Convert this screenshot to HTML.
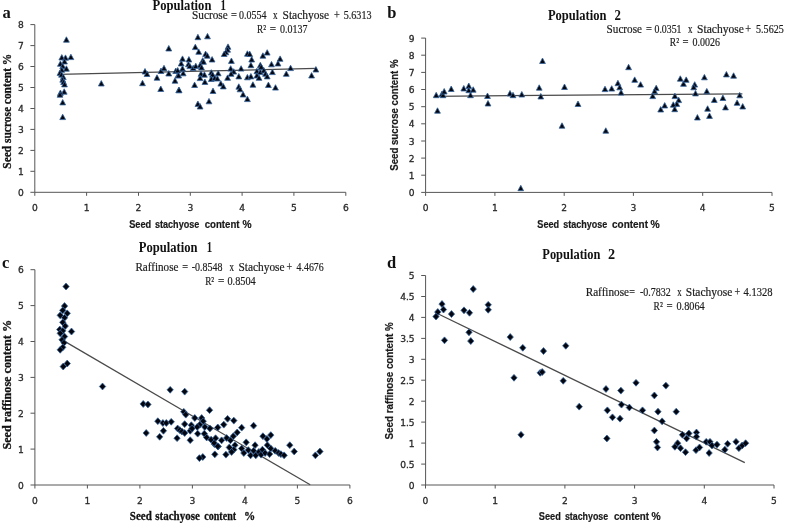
<!DOCTYPE html>
<html lang="en"><head><meta charset="utf-8"><title>Stachyose correlations</title>
<style>html,body{margin:0;padding:0;background:#fff}body{width:785px;height:523px;overflow:hidden}svg{display:block}text{white-space:pre}</style>
</head><body>
<svg width="785" height="523" viewBox="0 0 785 523">
<rect width="785" height="523" fill="#fff"/>
<g stroke="#565656" stroke-width="1" fill="none">
<path d="M34.8 24.6V192.3H345.8"/>
<path d="M34.8 192.3v3.5M86.6 192.3v3.5M138.5 192.3v3.5M190.3 192.3v3.5M242.1 192.3v3.5M293.9 192.3v3.5M345.8 192.3v3.5M34.8 192.3h-4.4M34.8 171.3h-4.4M34.8 150.4h-4.4M34.8 129.4h-4.4M34.8 108.5h-4.4M34.8 87.5h-4.4M34.8 66.5h-4.4M34.8 45.6h-4.4M34.8 24.6h-4.4"/>
</g>
<g font-family="'DejaVu Sans','Liberation Sans',sans-serif" font-size="9.1" fill="#2a2a2a" stroke="#2a2a2a" stroke-width="0.3">
<text x="34.8" y="211.0" text-anchor="middle">0</text>
<text x="86.6" y="211.0" text-anchor="middle">1</text>
<text x="138.5" y="211.0" text-anchor="middle">2</text>
<text x="190.3" y="211.0" text-anchor="middle">3</text>
<text x="242.1" y="211.0" text-anchor="middle">4</text>
<text x="293.9" y="211.0" text-anchor="middle">5</text>
<text x="345.8" y="211.0" text-anchor="middle">6</text>
<text x="23.9" y="195.8" text-anchor="end">0</text>
<text x="23.9" y="174.8" text-anchor="end">1</text>
<text x="23.9" y="153.9" text-anchor="end">2</text>
<text x="23.9" y="132.9" text-anchor="end">3</text>
<text x="23.9" y="112.0" text-anchor="end">4</text>
<text x="23.9" y="91.0" text-anchor="end">5</text>
<text x="23.9" y="70.0" text-anchor="end">6</text>
<text x="23.9" y="49.1" text-anchor="end">7</text>
<text x="23.9" y="28.1" text-anchor="end">8</text>
</g>
<g stroke="#565656" stroke-width="1" fill="none">
<path d="M425.6 38.05V192.4H772"/>
<path d="M425.6 192.4v3.5M494.9 192.4v3.5M564.2 192.4v3.5M633.4 192.4v3.5M702.7 192.4v3.5M772.0 192.4v3.5M425.6 192.4h-4.4M425.6 175.2h-4.4M425.6 158.1h-4.4M425.6 141.0h-4.4M425.6 123.8h-4.4M425.6 106.7h-4.4M425.6 89.5h-4.4M425.6 72.4h-4.4M425.6 55.2h-4.4M425.6 38.1h-4.4"/>
</g>
<g font-family="'DejaVu Sans','Liberation Sans',sans-serif" font-size="9.1" fill="#2a2a2a" stroke="#2a2a2a" stroke-width="0.3">
<text x="425.6" y="211.0" text-anchor="middle">0</text>
<text x="494.9" y="211.0" text-anchor="middle">1</text>
<text x="564.2" y="211.0" text-anchor="middle">2</text>
<text x="633.4" y="211.0" text-anchor="middle">3</text>
<text x="702.7" y="211.0" text-anchor="middle">4</text>
<text x="772.0" y="211.0" text-anchor="middle">5</text>
<text x="414.6" y="195.9" text-anchor="end">0</text>
<text x="414.6" y="178.8" text-anchor="end">1</text>
<text x="414.6" y="161.6" text-anchor="end">2</text>
<text x="414.6" y="144.5" text-anchor="end">3</text>
<text x="414.6" y="127.3" text-anchor="end">4</text>
<text x="414.6" y="110.2" text-anchor="end">5</text>
<text x="414.6" y="93.0" text-anchor="end">6</text>
<text x="414.6" y="75.9" text-anchor="end">7</text>
<text x="414.6" y="58.7" text-anchor="end">8</text>
<text x="414.6" y="41.6" text-anchor="end">9</text>
</g>
<g stroke="#565656" stroke-width="1" fill="none">
<path d="M34.9 269.7V485.0H349.9"/>
<path d="M34.9 485.0v3.5M87.4 485.0v3.5M139.9 485.0v3.5M192.4 485.0v3.5M244.9 485.0v3.5M297.4 485.0v3.5M349.9 485.0v3.5M34.9 485.0h-4.4M34.9 449.1h-4.4M34.9 413.2h-4.4M34.9 377.4h-4.4M34.9 341.5h-4.4M34.9 305.6h-4.4M34.9 269.7h-4.4"/>
</g>
<g font-family="'DejaVu Sans','Liberation Sans',sans-serif" font-size="9.1" fill="#2a2a2a" stroke="#2a2a2a" stroke-width="0.3">
<text x="34.9" y="504.0" text-anchor="middle">0</text>
<text x="87.4" y="504.0" text-anchor="middle">1</text>
<text x="139.9" y="504.0" text-anchor="middle">2</text>
<text x="192.4" y="504.0" text-anchor="middle">3</text>
<text x="244.9" y="504.0" text-anchor="middle">4</text>
<text x="297.4" y="504.0" text-anchor="middle">5</text>
<text x="349.9" y="504.0" text-anchor="middle">6</text>
<text x="23.9" y="488.5" text-anchor="end">0</text>
<text x="23.9" y="452.6" text-anchor="end">1</text>
<text x="23.9" y="416.7" text-anchor="end">2</text>
<text x="23.9" y="380.9" text-anchor="end">3</text>
<text x="23.9" y="345.0" text-anchor="end">4</text>
<text x="23.9" y="309.1" text-anchor="end">5</text>
<text x="23.9" y="273.2" text-anchor="end">6</text>
</g>
<g stroke="#565656" stroke-width="1" fill="none">
<path d="M425.6 275.5V485.0H774"/>
<path d="M425.5 485.0v3.5M495.2 485.0v3.5M564.9 485.0v3.5M634.6 485.0v3.5M704.3 485.0v3.5M774.0 485.0v3.5M425.6 485.0h-4.4M425.6 464.1h-4.4M425.6 443.1h-4.4M425.6 422.1h-4.4M425.6 401.2h-4.4M425.6 380.2h-4.4M425.6 359.3h-4.4M425.6 338.4h-4.4M425.6 317.4h-4.4M425.6 296.5h-4.4M425.6 275.5h-4.4"/>
</g>
<g font-family="'DejaVu Sans','Liberation Sans',sans-serif" font-size="9.1" fill="#2a2a2a" stroke="#2a2a2a" stroke-width="0.3">
<text x="425.5" y="504.0" text-anchor="middle">0</text>
<text x="495.2" y="504.0" text-anchor="middle">1</text>
<text x="564.9" y="504.0" text-anchor="middle">2</text>
<text x="634.6" y="504.0" text-anchor="middle">3</text>
<text x="704.3" y="504.0" text-anchor="middle">4</text>
<text x="774.0" y="504.0" text-anchor="middle">5</text>
<text x="414.6" y="488.5" text-anchor="end">0</text>
<text x="414.6" y="467.6" text-anchor="end">0.5</text>
<text x="414.6" y="446.6" text-anchor="end">1</text>
<text x="414.6" y="425.6" text-anchor="end">1.5</text>
<text x="414.6" y="404.7" text-anchor="end">2</text>
<text x="414.6" y="383.8" text-anchor="end">2.5</text>
<text x="414.6" y="362.8" text-anchor="end">3</text>
<text x="414.6" y="341.9" text-anchor="end">3.5</text>
<text x="414.6" y="320.9" text-anchor="end">4</text>
<text x="414.6" y="300.0" text-anchor="end">4.5</text>
<text x="414.6" y="279.0" text-anchor="end">5</text>
</g>
<g stroke="#4a4a4a" stroke-width="1.25" fill="none">
<path d="M59 74.3L316 68.4"/>
<path d="M433.8 96.3L742.4 93.8"/>
<path d="M63 340.4L310.2 484.8"/>
<path d="M436.3 313L744.8 462.6"/>
</g>
<g fill="#03060f" stroke="#35639c" stroke-width="0.8" stroke-linejoin="miter">
<path d="M66.4 36.8L69.3 42.2H63.5Z"/>
<path d="M61.8 54.6L64.7 60.0H58.9Z"/>
<path d="M65.5 54.9L68.4 60.3H62.6Z"/>
<path d="M70.9 54.2L73.8 59.6H68.0Z"/>
<path d="M64.5 58.6L67.4 64.0H61.6Z"/>
<path d="M60.4 60.9L63.3 66.3H57.5Z"/>
<path d="M62.7 63.3L65.6 68.7H59.8Z"/>
<path d="M66.4 65.8L69.3 71.2H63.5Z"/>
<path d="M61.8 66.9L64.7 72.3H58.9Z"/>
<path d="M60.0 70.0L62.9 75.4H57.1Z"/>
<path d="M61.5 71.8L64.4 77.2H58.6Z"/>
<path d="M63.3 74.2L66.2 79.6H60.4Z"/>
<path d="M62.7 76.8L65.6 82.2H59.8Z"/>
<path d="M63.6 79.1L66.5 84.5H60.7Z"/>
<path d="M64.5 81.5L67.4 86.9H61.6Z"/>
<path d="M64.2 88.8L67.1 94.2H61.3Z"/>
<path d="M60.4 90.0L63.3 95.4H57.5Z"/>
<path d="M60.0 91.8L62.9 97.2H57.1Z"/>
<path d="M62.7 99.5L65.6 104.9H59.8Z"/>
<path d="M62.7 114.2L65.6 119.6H59.8Z"/>
<path d="M101.3 80.6L104.2 86.0H98.4Z"/>
<path d="M142.5 80.3L145.4 85.7H139.6Z"/>
<path d="M145.0 68.5L147.9 74.0H142.1Z"/>
<path d="M147.0 71.0L149.9 76.5H144.1Z"/>
<path d="M157.0 74.8L159.9 80.2H154.1Z"/>
<path d="M160.8 86.0L163.7 91.5H157.8Z"/>
<path d="M161.0 68.0L163.9 73.5H158.1Z"/>
<path d="M164.0 65.3L166.9 70.7H161.1Z"/>
<path d="M168.8 45.5L171.7 51.0H165.8Z"/>
<path d="M168.8 70.5L171.7 76.0H165.8Z"/>
<path d="M175.0 77.8L177.9 83.2H172.1Z"/>
<path d="M175.8 68.0L178.7 73.5H172.8Z"/>
<path d="M178.0 72.3L180.9 77.7H175.1Z"/>
<path d="M178.8 87.3L181.7 92.7H175.8Z"/>
<path d="M197.9 34.3L200.8 39.7H195.0Z"/>
<path d="M207.5 33.4L210.4 38.8H204.6Z"/>
<path d="M195.3 44.2L198.2 49.6H192.4Z"/>
<path d="M198.7 48.9L201.6 54.3H195.8Z"/>
<path d="M205.6 51.1L208.5 56.5H202.7Z"/>
<path d="M207.3 52.8L210.2 58.2H204.4Z"/>
<path d="M212.1 56.6L215.0 62.0H209.2Z"/>
<path d="M202.7 57.7L205.6 63.1H199.8Z"/>
<path d="M203.5 58.9L206.4 64.3H200.6Z"/>
<path d="M182.5 55.9L185.4 61.3H179.6Z"/>
<path d="M188.9 56.6L191.8 62.0H186.0Z"/>
<path d="M181.2 60.6L184.1 66.0H178.3Z"/>
<path d="M188.4 61.4L191.3 66.8H185.5Z"/>
<path d="M189.8 63.2L192.7 68.6H186.9Z"/>
<path d="M193.2 65.2L196.1 70.6H190.3Z"/>
<path d="M195.8 63.2L198.7 68.6H192.9Z"/>
<path d="M200.1 62.3L203.0 67.7H197.2Z"/>
<path d="M201.5 64.5L204.4 69.9H198.6Z"/>
<path d="M182.5 65.7L185.4 71.1H179.6Z"/>
<path d="M177.7 67.5L180.6 72.9H174.8Z"/>
<path d="M183.2 70.4L186.1 75.8H180.3Z"/>
<path d="M178.6 72.6L181.5 78.0H175.7Z"/>
<path d="M201.0 70.9L203.9 76.3H198.1Z"/>
<path d="M204.4 71.8L207.3 77.2H201.5Z"/>
<path d="M200.1 75.2L203.0 80.6H197.2Z"/>
<path d="M204.9 79.0L207.8 84.4H202.0Z"/>
<path d="M194.6 82.1L197.5 87.5H191.7Z"/>
<path d="M179.1 87.3L182.0 92.7H176.2Z"/>
<path d="M211.3 69.7L214.2 75.1H208.4Z"/>
<path d="M212.5 71.8L215.4 77.2H209.6Z"/>
<path d="M211.3 76.1L214.2 81.5H208.4Z"/>
<path d="M214.7 75.2L217.6 80.6H211.8Z"/>
<path d="M217.3 75.6L220.2 81.0H214.4Z"/>
<path d="M218.2 70.4L221.1 75.8H215.3Z"/>
<path d="M220.8 80.7L223.7 86.1H217.9Z"/>
<path d="M223.3 83.5L226.2 88.9H220.4Z"/>
<path d="M213.0 88.1L215.9 93.5H210.1Z"/>
<path d="M209.0 98.4L211.9 103.8H206.1Z"/>
<path d="M197.9 101.0L200.8 106.4H195.0Z"/>
<path d="M200.1 103.6L203.0 109.0H197.2Z"/>
<path d="M228.0 43.9L230.9 49.3H225.1Z"/>
<path d="M227.6 46.8L230.5 52.2H224.7Z"/>
<path d="M225.9 49.4L228.8 54.8H223.0Z"/>
<path d="M224.2 51.1L227.1 56.5H221.3Z"/>
<path d="M231.4 58.0L234.3 63.4H228.5Z"/>
<path d="M230.7 65.7L233.6 71.1H227.8Z"/>
<path d="M233.7 68.7L236.6 74.1H230.8Z"/>
<path d="M231.1 70.9L234.0 76.3H228.2Z"/>
<path d="M227.6 74.9L230.5 80.3H224.7Z"/>
<path d="M241.1 65.7L244.0 71.1H238.2Z"/>
<path d="M238.8 73.5L241.7 78.9H235.9Z"/>
<path d="M238.8 83.8L241.7 89.2H235.9Z"/>
<path d="M240.0 86.4L242.9 91.8H237.1Z"/>
<path d="M243.1 91.6L246.0 97.0H240.2Z"/>
<path d="M247.4 96.2L250.3 101.6H244.5Z"/>
<path d="M247.4 50.8L250.3 56.2H244.5Z"/>
<path d="M249.7 51.1L252.6 56.5H246.8Z"/>
<path d="M251.7 56.6L254.6 62.0H248.8Z"/>
<path d="M250.9 62.3L253.8 67.7H248.0Z"/>
<path d="M247.4 74.4L250.3 79.8H244.5Z"/>
<path d="M250.9 73.5L253.8 78.9H248.0Z"/>
<path d="M252.9 81.8L255.8 87.2H250.0Z"/>
<path d="M260.3 62.3L263.2 67.7H257.4Z"/>
<path d="M261.2 64.0L264.1 69.4H258.3Z"/>
<path d="M256.9 68.3L259.8 73.7H254.0Z"/>
<path d="M260.3 69.2L263.2 74.6H257.4Z"/>
<path d="M263.8 67.5L266.7 72.9H260.9Z"/>
<path d="M256.9 72.6L259.8 78.0H254.0Z"/>
<path d="M259.0 74.9L261.9 80.3H256.1Z"/>
<path d="M262.9 52.8L265.8 58.2H260.0Z"/>
<path d="M267.2 49.7L270.1 55.1H264.3Z"/>
<path d="M271.5 61.4L274.4 66.8H268.6Z"/>
<path d="M265.5 70.9L268.4 76.3H262.6Z"/>
<path d="M267.2 73.5L270.1 78.9H264.3Z"/>
<path d="M272.4 69.2L275.3 74.6H269.5Z"/>
<path d="M268.4 82.1L271.3 87.5H265.5Z"/>
<path d="M275.5 84.7L278.4 90.1H272.6Z"/>
<path d="M280.1 55.9L283.0 61.3H277.2Z"/>
<path d="M278.0 60.6L280.9 66.0H275.1Z"/>
<path d="M290.6 65.2L293.5 70.6H287.7Z"/>
<path d="M315.9 66.6L318.8 72.0H313.0Z"/>
<path d="M311.6 72.6L314.5 78.0H308.7Z"/>
<path d="M286.3 70.9L289.2 76.3H283.4Z"/>
<path d="M436.2 92.3L439.1 97.7H433.4Z"/>
<path d="M437.5 107.8L440.4 113.2H434.6Z"/>
<path d="M442.0 91.0L444.9 96.5H439.1Z"/>
<path d="M443.0 92.3L445.9 97.7H440.1Z"/>
<path d="M444.2 88.5L447.1 94.0H441.4Z"/>
<path d="M451.2 86.0L454.1 91.5H448.4Z"/>
<path d="M463.8 85.5L466.6 91.0H460.9Z"/>
<path d="M468.8 83.0L471.6 88.5H465.9Z"/>
<path d="M468.8 87.3L471.6 92.7H465.9Z"/>
<path d="M470.5 92.3L473.4 97.7H467.6Z"/>
<path d="M473.2 86.8L476.1 92.2H470.4Z"/>
<path d="M487.5 93.0L490.4 98.5H484.6Z"/>
<path d="M488.0 100.5L490.9 106.0H485.1Z"/>
<path d="M510.0 90.5L512.9 96.0H507.1Z"/>
<path d="M513.0 92.3L515.9 97.7H510.1Z"/>
<path d="M521.8 91.5L524.6 97.0H518.9Z"/>
<path d="M539.2 84.8L542.1 90.2H536.4Z"/>
<path d="M540.8 93.5L543.6 99.0H537.9Z"/>
<path d="M542.5 58.0L545.4 63.5H539.6Z"/>
<path d="M564.5 84.0L567.4 89.5H561.6Z"/>
<path d="M562.0 122.8L564.9 128.2H559.1Z"/>
<path d="M578.0 101.0L580.9 106.5H575.1Z"/>
<path d="M520.8 185.3L523.6 190.7H517.9Z"/>
<path d="M628.6 64.3L631.5 69.7H625.7Z"/>
<path d="M605.0 86.2L607.9 91.6H602.1Z"/>
<path d="M611.7 85.7L614.6 91.1H608.8Z"/>
<path d="M617.9 80.3L620.8 85.7H615.0Z"/>
<path d="M619.7 84.4L622.6 89.8H616.8Z"/>
<path d="M621.1 89.7L624.0 95.1H618.2Z"/>
<path d="M605.8 127.8L608.7 133.2H602.9Z"/>
<path d="M634.7 76.9L637.6 82.3H631.8Z"/>
<path d="M640.6 81.7L643.5 87.1H637.7Z"/>
<path d="M656.2 85.2L659.1 90.6H653.3Z"/>
<path d="M654.6 88.4L657.5 93.8H651.7Z"/>
<path d="M652.7 93.2L655.6 98.6H649.8Z"/>
<path d="M660.7 106.6L663.6 112.0H657.8Z"/>
<path d="M664.7 102.6L667.6 108.0H661.8Z"/>
<path d="M674.9 93.2L677.8 98.6H672.0Z"/>
<path d="M678.7 97.2L681.6 102.6H675.8Z"/>
<path d="M676.8 101.0L679.7 106.4H673.9Z"/>
<path d="M673.3 101.8L676.2 107.2H670.4Z"/>
<path d="M674.7 106.3L677.6 111.7H671.8Z"/>
<path d="M680.3 75.8L683.2 81.2H677.4Z"/>
<path d="M683.5 80.9L686.4 86.3H680.6Z"/>
<path d="M686.2 76.9L689.1 82.3H683.3Z"/>
<path d="M694.7 81.7L697.6 87.1H691.8Z"/>
<path d="M693.7 84.4L696.6 89.8H690.8Z"/>
<path d="M695.5 90.5L698.4 95.9H692.6Z"/>
<path d="M697.4 114.6L700.3 120.0H694.5Z"/>
<path d="M704.4 74.4L707.3 79.8H701.5Z"/>
<path d="M706.8 88.4L709.7 93.8H703.9Z"/>
<path d="M707.6 105.8L710.5 111.2H704.7Z"/>
<path d="M709.5 113.0L712.4 118.4H706.6Z"/>
<path d="M714.3 97.0L717.2 102.4H711.4Z"/>
<path d="M722.9 95.1L725.8 100.5H720.0Z"/>
<path d="M726.4 71.5L729.3 76.9H723.5Z"/>
<path d="M725.5 104.5L728.4 109.9H722.6Z"/>
<path d="M733.6 72.8L736.5 78.2H730.7Z"/>
<path d="M739.7 92.4L742.6 97.8H736.8Z"/>
<path d="M737.1 99.9L740.0 105.3H734.2Z"/>
<path d="M742.7 103.6L745.6 109.0H739.8Z"/>
<path d="M66.0 283.1L69.2 286.6L66.0 290.0L62.9 286.6Z"/>
<path d="M64.5 302.6L67.7 306.1L64.5 309.5L61.4 306.1Z"/>
<path d="M62.8 306.9L65.9 310.3L62.8 313.8L59.6 310.3Z"/>
<path d="M67.2 309.9L70.4 313.3L67.2 316.8L64.1 313.3Z"/>
<path d="M60.2 311.9L63.4 315.3L60.2 318.8L57.1 315.3Z"/>
<path d="M64.5 314.4L67.7 317.8L64.5 321.2L61.4 317.8Z"/>
<path d="M62.8 318.9L65.9 322.3L62.8 325.8L59.6 322.3Z"/>
<path d="M65.2 322.6L68.4 326.1L65.2 329.5L62.1 326.1Z"/>
<path d="M59.8 326.1L62.9 329.6L59.8 333.0L56.6 329.6Z"/>
<path d="M62.8 327.4L65.9 330.8L62.8 334.2L59.6 330.8Z"/>
<path d="M71.5 328.1L74.7 331.6L71.5 335.0L68.3 331.6Z"/>
<path d="M60.2 329.9L63.4 333.3L60.2 336.8L57.1 333.3Z"/>
<path d="M64.5 333.1L67.7 336.6L64.5 340.0L61.4 336.6Z"/>
<path d="M62.0 336.4L65.2 339.8L62.0 343.2L58.9 339.8Z"/>
<path d="M64.0 339.4L67.2 342.8L64.0 346.2L60.9 342.8Z"/>
<path d="M62.8 343.9L65.9 347.3L62.8 350.8L59.6 347.3Z"/>
<path d="M60.2 346.4L63.4 349.8L60.2 353.2L57.1 349.8Z"/>
<path d="M67.2 360.1L70.4 363.6L67.2 367.0L64.1 363.6Z"/>
<path d="M63.2 363.1L66.4 366.6L63.2 370.0L60.1 366.6Z"/>
<path d="M102.5 383.1L105.7 386.5L102.5 389.9L99.4 386.5Z"/>
<path d="M170.2 386.4L173.3 389.8L170.2 393.2L167.0 389.8Z"/>
<path d="M184.7 388.2L187.8 391.6L184.7 395.1L181.5 391.6Z"/>
<path d="M143.2 400.5L146.4 403.9L143.2 407.4L140.1 403.9Z"/>
<path d="M147.9 401.0L151.1 404.4L147.9 407.9L144.8 404.4Z"/>
<path d="M209.6 406.8L212.7 410.2L209.6 413.6L206.4 410.2Z"/>
<path d="M183.8 408.4L186.9 411.8L183.8 415.2L180.6 411.8Z"/>
<path d="M185.8 411.2L188.9 414.7L185.8 418.1L182.6 414.7Z"/>
<path d="M194.8 414.6L197.9 418.0L194.8 421.4L191.6 418.0Z"/>
<path d="M201.7 414.6L204.8 418.0L201.7 421.4L198.5 418.0Z"/>
<path d="M203.2 417.8L206.4 421.2L203.2 424.6L200.1 421.2Z"/>
<path d="M157.8 417.8L161.0 421.2L157.8 424.6L154.7 421.2Z"/>
<path d="M162.9 419.6L166.1 423.0L162.9 426.4L159.8 423.0Z"/>
<path d="M166.3 419.6L169.5 423.0L166.3 426.4L163.2 423.0Z"/>
<path d="M171.2 418.4L174.4 421.8L171.2 425.2L168.1 421.8Z"/>
<path d="M184.7 420.7L187.8 424.1L184.7 427.6L181.5 424.1Z"/>
<path d="M191.3 421.8L194.5 425.2L191.3 428.6L188.2 425.2Z"/>
<path d="M199.8 421.2L203.0 424.7L199.8 428.1L196.7 424.7Z"/>
<path d="M197.2 423.6L200.4 427.0L197.2 430.4L194.1 427.0Z"/>
<path d="M204.8 423.6L208.0 427.0L204.8 430.4L201.7 427.0Z"/>
<path d="M209.9 425.1L213.1 428.5L209.9 431.9L206.8 428.5Z"/>
<path d="M217.8 424.0L220.9 427.4L217.8 430.9L214.6 427.4Z"/>
<path d="M177.6 425.1L180.7 428.5L177.6 431.9L174.4 428.5Z"/>
<path d="M179.8 426.7L182.9 430.1L179.8 433.6L176.6 430.1Z"/>
<path d="M181.9 428.1L185.1 431.5L181.9 434.9L178.8 431.5Z"/>
<path d="M184.7 429.6L187.8 433.0L184.7 436.4L181.5 433.0Z"/>
<path d="M190.2 427.4L193.4 430.8L190.2 434.2L187.1 430.8Z"/>
<path d="M192.1 425.1L195.2 428.5L192.1 431.9L188.9 428.5Z"/>
<path d="M197.7 430.2L200.8 433.7L197.7 437.1L194.5 433.7Z"/>
<path d="M204.3 430.2L207.5 433.7L204.3 437.1L201.2 433.7Z"/>
<path d="M163.4 427.4L166.6 430.8L163.4 434.2L160.3 430.8Z"/>
<path d="M146.2 429.6L149.3 433.0L146.2 436.4L143.0 433.0Z"/>
<path d="M159.7 433.4L162.8 436.8L159.7 440.2L156.5 436.8Z"/>
<path d="M177.1 434.8L180.2 438.2L177.1 441.6L173.9 438.2Z"/>
<path d="M190.2 436.8L193.4 440.2L190.2 443.6L187.1 440.2Z"/>
<path d="M206.7 434.1L209.8 437.5L206.7 440.9L203.5 437.5Z"/>
<path d="M211.1 436.2L214.2 439.7L211.1 443.1L207.9 439.7Z"/>
<path d="M215.6 434.8L218.7 438.2L215.6 441.6L212.4 438.2Z"/>
<path d="M214.4 440.8L217.6 444.2L214.4 447.6L211.3 444.2Z"/>
<path d="M218.2 443.0L221.4 446.4L218.2 449.9L215.1 446.4Z"/>
<path d="M214.8 450.9L218.0 454.3L214.8 457.8L211.7 454.3Z"/>
<path d="M202.8 453.6L206.0 457.0L202.8 460.4L199.7 457.0Z"/>
<path d="M199.4 454.7L202.6 458.1L199.4 461.6L196.3 458.1Z"/>
<path d="M227.6 415.4L230.7 418.8L227.6 422.2L224.4 418.8Z"/>
<path d="M233.8 417.2L237.0 420.6L233.8 424.1L230.7 420.6Z"/>
<path d="M223.8 421.2L226.9 424.6L223.8 428.1L220.6 424.6Z"/>
<path d="M241.7 424.2L244.8 427.7L241.7 431.1L238.5 427.7Z"/>
<path d="M253.6 422.2L256.7 425.7L253.6 429.1L250.4 425.7Z"/>
<path d="M237.2 429.0L240.3 432.4L237.2 435.9L234.0 432.4Z"/>
<path d="M233.3 432.8L236.5 436.2L233.3 439.6L230.2 436.2Z"/>
<path d="M226.7 434.6L229.8 438.0L226.7 441.4L223.5 438.0Z"/>
<path d="M230.4 436.9L233.6 440.3L230.4 443.8L227.3 440.3Z"/>
<path d="M221.6 436.9L224.7 440.3L221.6 443.8L218.4 440.3Z"/>
<path d="M214.2 439.6L217.3 443.0L214.2 446.4L211.0 443.0Z"/>
<path d="M217.8 442.9L220.9 446.3L217.8 449.8L214.6 446.3Z"/>
<path d="M234.9 441.8L238.1 445.2L234.9 448.6L231.8 445.2Z"/>
<path d="M229.3 444.0L232.5 447.4L229.3 450.9L226.2 447.4Z"/>
<path d="M233.8 446.2L237.0 449.7L233.8 453.1L230.7 449.7Z"/>
<path d="M231.6 448.5L234.7 451.9L231.6 455.4L228.4 451.9Z"/>
<path d="M225.9 451.2L229.1 454.6L225.9 458.1L222.8 454.6Z"/>
<path d="M246.2 438.9L249.3 442.3L246.2 445.8L243.0 442.3Z"/>
<path d="M241.7 445.1L244.8 448.5L241.7 451.9L238.5 448.5Z"/>
<path d="M243.8 449.6L247.0 453.0L243.8 456.4L240.7 453.0Z"/>
<path d="M248.3 446.7L251.5 450.1L248.3 453.6L245.2 450.1Z"/>
<path d="M250.6 451.9L253.7 455.3L250.6 458.8L247.4 455.3Z"/>
<path d="M253.6 447.4L256.7 450.8L253.6 454.2L250.4 450.8Z"/>
<path d="M255.1 441.8L258.2 445.2L255.1 448.6L251.9 445.2Z"/>
<path d="M255.8 451.9L258.9 455.3L255.8 458.8L252.6 455.3Z"/>
<path d="M258.9 448.5L262.0 451.9L258.9 455.4L255.7 451.9Z"/>
<path d="M261.1 451.2L264.3 454.6L261.1 458.1L258.0 454.6Z"/>
<path d="M262.4 446.2L265.6 449.7L262.4 453.1L259.3 449.7Z"/>
<path d="M265.1 449.6L268.3 453.0L265.1 456.4L262.0 453.0Z"/>
<path d="M262.9 432.8L266.1 436.2L262.9 439.6L259.8 436.2Z"/>
<path d="M266.9 435.5L270.1 438.9L266.9 442.4L263.8 438.9Z"/>
<path d="M270.8 431.7L273.9 435.1L270.8 438.6L267.6 435.1Z"/>
<path d="M267.4 441.8L270.5 445.2L267.4 448.6L264.2 445.2Z"/>
<path d="M270.8 445.1L273.9 448.5L270.8 451.9L267.6 448.5Z"/>
<path d="M269.6 450.7L272.8 454.1L269.6 457.6L266.5 454.1Z"/>
<path d="M275.2 447.4L278.4 450.8L275.2 454.2L272.1 450.8Z"/>
<path d="M278.6 449.6L281.7 453.0L278.6 456.4L275.4 453.0Z"/>
<path d="M280.9 450.7L284.0 454.1L280.9 457.6L277.7 454.1Z"/>
<path d="M284.1 451.9L287.3 455.3L284.1 458.8L281.0 455.3Z"/>
<path d="M289.8 441.8L292.9 445.2L289.8 448.6L286.6 445.2Z"/>
<path d="M294.2 448.1L297.4 451.5L294.2 454.9L291.1 451.5Z"/>
<path d="M315.4 451.9L318.6 455.3L315.4 458.8L312.3 455.3Z"/>
<path d="M319.9 448.1L323.1 451.5L319.9 454.9L316.8 451.5Z"/>
<path d="M473.2 285.6L476.4 289.1L473.2 292.5L470.1 289.1Z"/>
<path d="M442.0 300.6L445.1 304.1L442.0 307.5L438.9 304.1Z"/>
<path d="M443.5 306.1L446.6 309.6L443.5 313.0L440.4 309.6Z"/>
<path d="M437.8 308.6L440.9 312.1L437.8 315.5L434.6 312.1Z"/>
<path d="M436.0 313.1L439.1 316.6L436.0 320.0L432.9 316.6Z"/>
<path d="M451.5 310.6L454.6 314.1L451.5 317.5L448.4 314.1Z"/>
<path d="M464.0 306.9L467.1 310.3L464.0 313.8L460.9 310.3Z"/>
<path d="M469.5 309.4L472.6 312.8L469.5 316.2L466.4 312.8Z"/>
<path d="M488.2 301.4L491.4 304.8L488.2 308.2L485.1 304.8Z"/>
<path d="M488.2 306.4L491.4 309.8L488.2 313.2L485.1 309.8Z"/>
<path d="M469.0 328.9L472.1 332.3L469.0 335.8L465.9 332.3Z"/>
<path d="M444.5 336.9L447.6 340.3L444.5 343.8L441.4 340.3Z"/>
<path d="M470.8 337.6L473.9 341.1L470.8 344.5L467.6 341.1Z"/>
<path d="M510.2 333.6L513.4 337.1L510.2 340.5L507.1 337.1Z"/>
<path d="M522.8 344.4L525.9 347.8L522.8 351.2L519.6 347.8Z"/>
<path d="M543.5 347.6L546.6 351.1L543.5 354.5L540.4 351.1Z"/>
<path d="M565.8 342.4L568.9 345.8L565.8 349.2L562.6 345.8Z"/>
<path d="M514.0 374.4L517.1 377.8L514.0 381.2L510.9 377.8Z"/>
<path d="M540.2 369.4L543.4 372.8L540.2 376.2L537.1 372.8Z"/>
<path d="M542.2 368.6L545.4 372.1L542.2 375.5L539.1 372.1Z"/>
<path d="M563.2 377.4L566.4 380.8L563.2 384.2L560.1 380.8Z"/>
<path d="M521.0 431.4L524.1 434.8L521.0 438.2L517.9 434.8Z"/>
<path d="M579.2 403.2L582.4 406.7L579.2 410.1L576.1 406.7Z"/>
<path d="M606.0 385.6L609.1 389.0L606.0 392.4L602.8 389.0Z"/>
<path d="M620.9 387.2L624.0 390.6L620.9 394.1L617.7 390.6Z"/>
<path d="M636.0 379.4L639.2 382.8L636.0 386.2L632.9 382.8Z"/>
<path d="M665.9 382.2L669.0 385.6L665.9 389.1L662.7 385.6Z"/>
<path d="M654.4 392.0L657.5 395.4L654.4 398.9L651.2 395.4Z"/>
<path d="M621.5 401.2L624.6 404.7L621.5 408.1L618.3 404.7Z"/>
<path d="M629.4 404.1L632.5 407.5L629.4 410.9L626.2 407.5Z"/>
<path d="M607.4 406.9L610.5 410.3L607.4 413.8L604.2 410.3Z"/>
<path d="M612.5 413.9L615.6 417.3L612.5 420.8L609.3 417.3Z"/>
<path d="M620.0 415.2L623.2 418.7L620.0 422.1L616.9 418.7Z"/>
<path d="M642.5 406.9L645.7 410.3L642.5 413.8L639.4 410.3Z"/>
<path d="M658.0 408.2L661.1 411.7L658.0 415.1L654.8 411.7Z"/>
<path d="M676.2 408.2L679.4 411.7L676.2 415.1L673.1 411.7Z"/>
<path d="M662.1 417.9L665.3 421.3L662.1 424.8L659.0 421.3Z"/>
<path d="M606.9 435.0L610.0 438.4L606.9 441.9L603.7 438.4Z"/>
<path d="M654.4 427.1L657.5 430.5L654.4 433.9L651.2 430.5Z"/>
<path d="M656.5 438.4L659.7 441.8L656.5 445.2L653.4 441.8Z"/>
<path d="M657.5 444.0L660.6 447.4L657.5 450.9L654.3 447.4Z"/>
<path d="M682.5 431.4L685.6 434.8L682.5 438.2L679.3 434.8Z"/>
<path d="M688.9 430.0L692.0 433.4L688.9 436.9L685.7 433.4Z"/>
<path d="M686.6 435.0L689.8 438.4L686.6 441.9L683.5 438.4Z"/>
<path d="M696.5 429.1L699.6 432.5L696.5 435.9L693.3 432.5Z"/>
<path d="M696.5 433.2L699.6 436.7L696.5 440.1L693.3 436.7Z"/>
<path d="M677.6 439.8L680.8 443.2L677.6 446.6L674.5 443.2Z"/>
<path d="M674.9 443.4L678.0 446.8L674.9 450.2L671.7 446.8Z"/>
<path d="M680.5 444.8L683.6 448.2L680.5 451.6L677.3 448.2Z"/>
<path d="M685.5 448.8L688.7 452.2L685.5 455.6L682.4 452.2Z"/>
<path d="M696.0 446.8L699.1 450.2L696.0 453.6L692.8 450.2Z"/>
<path d="M699.5 444.0L702.7 447.4L699.5 450.9L696.4 447.4Z"/>
<path d="M706.2 438.4L709.4 441.8L706.2 445.2L703.1 441.8Z"/>
<path d="M710.0 438.4L713.1 441.8L710.0 445.2L706.8 441.8Z"/>
<path d="M712.0 442.0L715.1 445.4L712.0 448.9L708.8 445.4Z"/>
<path d="M709.1 449.6L712.3 453.0L709.1 456.4L706.0 453.0Z"/>
<path d="M717.0 441.2L720.1 444.6L717.0 448.1L713.8 444.6Z"/>
<path d="M724.9 446.2L728.0 449.7L724.9 453.1L721.7 449.7Z"/>
<path d="M727.6 440.4L730.8 443.8L727.6 447.2L724.5 443.8Z"/>
<path d="M736.0 438.4L739.2 441.8L736.0 445.2L732.9 441.8Z"/>
<path d="M738.9 444.8L742.0 448.2L738.9 451.6L735.7 448.2Z"/>
<path d="M742.2 442.0L745.4 445.4L742.2 448.9L739.1 445.4Z"/>
<path d="M745.6 439.8L748.8 443.2L745.6 446.6L742.5 443.2Z"/>
</g>
<g font-family="'Liberation Serif',serif" font-weight="bold" font-size="16.5" fill="#111">
<text x="2.6" y="18">a</text>
<text x="387.2" y="18.1">b</text>
<text x="2.1" y="268">c</text>
<text x="387.1" y="268.2">d</text>
</g>
<g font-family="'Liberation Serif',serif" font-weight="bold" font-size="13.6" fill="#111">
<text x="152.6" y="9.6" lengthAdjust="spacingAndGlyphs" textLength="58.8">Population</text>
<text x="220.6" y="9.6" lengthAdjust="spacingAndGlyphs" textLength="5.4">1</text>
<text x="547.9" y="20.4" lengthAdjust="spacingAndGlyphs" textLength="58.6">Population</text>
<text x="614.6" y="20.4" lengthAdjust="spacingAndGlyphs" textLength="6.4">2</text>
<text x="138.7" y="252.1" lengthAdjust="spacingAndGlyphs" textLength="58.8">Population</text>
<text x="206.7" y="252.1" lengthAdjust="spacingAndGlyphs" textLength="5.4">1</text>
<text x="542.3" y="258.6" lengthAdjust="spacingAndGlyphs" textLength="58.1">Population</text>
<text x="608" y="258.6" lengthAdjust="spacingAndGlyphs" textLength="7.1">2</text>
</g>
<g font-family="'Liberation Serif',serif" font-size="12" fill="#1c1c1c" stroke="#1c1c1c" stroke-width="0.2">
<text x="192.0" y="19.0" lengthAdjust="spacingAndGlyphs" textLength="35.7">Sucrose</text>
<text x="231.1" y="19.0" lengthAdjust="spacingAndGlyphs" textLength="5.9">=</text>
<text x="239.1" y="19.0" lengthAdjust="spacingAndGlyphs" textLength="27.4">0.0554</text>
<text x="272.9" y="19.0" lengthAdjust="spacingAndGlyphs" textLength="4.5">x</text>
<text x="282.5" y="19.0" lengthAdjust="spacingAndGlyphs" textLength="46.5">Stachyose</text>
<text x="334.1" y="19.0" lengthAdjust="spacingAndGlyphs" textLength="5.8">+</text>
<text x="343.7" y="19.0" lengthAdjust="spacingAndGlyphs" textLength="27.8">5.6313</text>
<text x="257" y="33.0" lengthAdjust="spacingAndGlyphs" textLength="8.9">R²</text>
<text x="269.7" y="33.0" lengthAdjust="spacingAndGlyphs" textLength="6.3">=</text>
<text x="280" y="33.0" lengthAdjust="spacingAndGlyphs" textLength="27.4">0.0137</text>
<text x="606.6" y="33.0" lengthAdjust="spacingAndGlyphs" textLength="35.4">Sucrose</text>
<text x="646.1" y="33.0" lengthAdjust="spacingAndGlyphs" textLength="5.9">=</text>
<text x="654.5" y="33.0" lengthAdjust="spacingAndGlyphs" textLength="27.0">0.0351</text>
<text x="688" y="33.0" lengthAdjust="spacingAndGlyphs" textLength="4.4">x</text>
<text x="697.1" y="33.0" lengthAdjust="spacingAndGlyphs" textLength="46.8">Stachyose</text>
<text x="745.2" y="33.0" lengthAdjust="spacingAndGlyphs" textLength="5.8">+</text>
<text x="756.1" y="33.0" lengthAdjust="spacingAndGlyphs" textLength="27.6">5.5625</text>
<text x="669.8" y="46.3" lengthAdjust="spacingAndGlyphs" textLength="9.2">R²</text>
<text x="682.5" y="46.3" lengthAdjust="spacingAndGlyphs" textLength="6.0">=</text>
<text x="692.6" y="46.3" lengthAdjust="spacingAndGlyphs" textLength="27.4">0.0026</text>
<text x="135.4" y="270.6" lengthAdjust="spacingAndGlyphs" textLength="43.0">Raffinose</text>
<text x="182.2" y="270.6" lengthAdjust="spacingAndGlyphs" textLength="5.8">=</text>
<text x="191.8" y="270.6" lengthAdjust="spacingAndGlyphs" textLength="30.6">-0.8548</text>
<text x="229.5" y="270.6" lengthAdjust="spacingAndGlyphs" textLength="4.4">x</text>
<text x="238.4" y="270.6" lengthAdjust="spacingAndGlyphs" textLength="46.2">Stachyose</text>
<text x="286.6" y="270.6" lengthAdjust="spacingAndGlyphs" textLength="5.6">+</text>
<text x="296.6" y="270.6" lengthAdjust="spacingAndGlyphs" textLength="27.1">4.4676</text>
<text x="205.2" y="284.7" lengthAdjust="spacingAndGlyphs" textLength="8.9">R²</text>
<text x="217.9" y="284.7" lengthAdjust="spacingAndGlyphs" textLength="6.4">=</text>
<text x="227.5" y="284.7" lengthAdjust="spacingAndGlyphs" textLength="28.1">0.8504</text>
<text x="585.7" y="296.3" lengthAdjust="spacingAndGlyphs" textLength="43.3">Raffinose</text>
<text x="629.3" y="296.3" lengthAdjust="spacingAndGlyphs" textLength="5.7">=</text>
<text x="639.9" y="296.3" lengthAdjust="spacingAndGlyphs" textLength="30.8">-0.7832</text>
<text x="677.3" y="296.3" lengthAdjust="spacingAndGlyphs" textLength="4.3">x</text>
<text x="685.8" y="296.3" lengthAdjust="spacingAndGlyphs" textLength="46.5">Stachyose</text>
<text x="734.6" y="296.3" lengthAdjust="spacingAndGlyphs" textLength="5.6">+</text>
<text x="743.5" y="296.3" lengthAdjust="spacingAndGlyphs" textLength="29.0">4.1328</text>
<text x="653.6" y="310.3" lengthAdjust="spacingAndGlyphs" textLength="9.2">R²</text>
<text x="666.6" y="310.3" lengthAdjust="spacingAndGlyphs" textLength="6.1">=</text>
<text x="676.5" y="310.3" lengthAdjust="spacingAndGlyphs" textLength="28.1">0.8064</text>
</g>
<g font-family="'Liberation Sans',sans-serif" font-weight="bold" font-size="10" fill="#1a1a1a" stroke="#1a1a1a" stroke-width="0.2">
<text x="129.2" y="227.6" lengthAdjust="spacingAndGlyphs" textLength="22.0">Seed</text>
<text x="155" y="227.6" lengthAdjust="spacingAndGlyphs" textLength="44.3">stachyose</text>
<text x="204.7" y="227.6" lengthAdjust="spacingAndGlyphs" textLength="34.8">content</text>
<text x="242.4" y="227.6" lengthAdjust="spacingAndGlyphs" textLength="9.1">%</text>
<text x="537.3" y="227.7" lengthAdjust="spacingAndGlyphs" textLength="21.8">Seed</text>
<text x="563.2" y="227.7" lengthAdjust="spacingAndGlyphs" textLength="44.0">stachyose</text>
<text x="612.1" y="227.7" lengthAdjust="spacingAndGlyphs" textLength="35.9">content</text>
<text x="650.4" y="227.7" lengthAdjust="spacingAndGlyphs" textLength="9.2">%</text>
<text x="538.8" y="520.3" lengthAdjust="spacingAndGlyphs" textLength="22.0">Seed</text>
<text x="564.9" y="520.3" lengthAdjust="spacingAndGlyphs" textLength="43.3">stachyose</text>
<text x="613.9" y="520.3" lengthAdjust="spacingAndGlyphs" textLength="35.1">content</text>
<text x="651.6" y="520.3" lengthAdjust="spacingAndGlyphs" textLength="9.2">%</text>
<text transform="translate(397.6 170.7) rotate(-90)" lengthAdjust="spacingAndGlyphs" textLength="111.2" font-size="10.2">Seed sucrose content %</text>
<text transform="translate(393.2 439.5) rotate(-90)" lengthAdjust="spacingAndGlyphs" textLength="117.3" font-size="10.2">Seed raffinose content %</text>
</g>
<g font-family="'Liberation Serif',serif" font-weight="bold" font-size="12.3" fill="#111" stroke="#111" stroke-width="0.3">
<text x="129.8" y="519.6" lengthAdjust="spacingAndGlyphs" textLength="22.0">Seed</text>
<text x="155.3" y="519.6" lengthAdjust="spacingAndGlyphs" textLength="44.5">stachyose</text>
<text x="204.3" y="519.6" lengthAdjust="spacingAndGlyphs" textLength="31.8">content</text>
<text x="244.1" y="519.6" lengthAdjust="spacingAndGlyphs" textLength="11.2">%</text>
<text transform="translate(10.6 168.7) rotate(-90)" lengthAdjust="spacingAndGlyphs" textLength="115" font-size="12.8">Seed sucrose content %</text>
<text transform="translate(11.4 449.5) rotate(-90)" lengthAdjust="spacingAndGlyphs" textLength="129.5" font-size="11.6">Seed raffinose content %</text>
</g>
</svg>
</body></html>
